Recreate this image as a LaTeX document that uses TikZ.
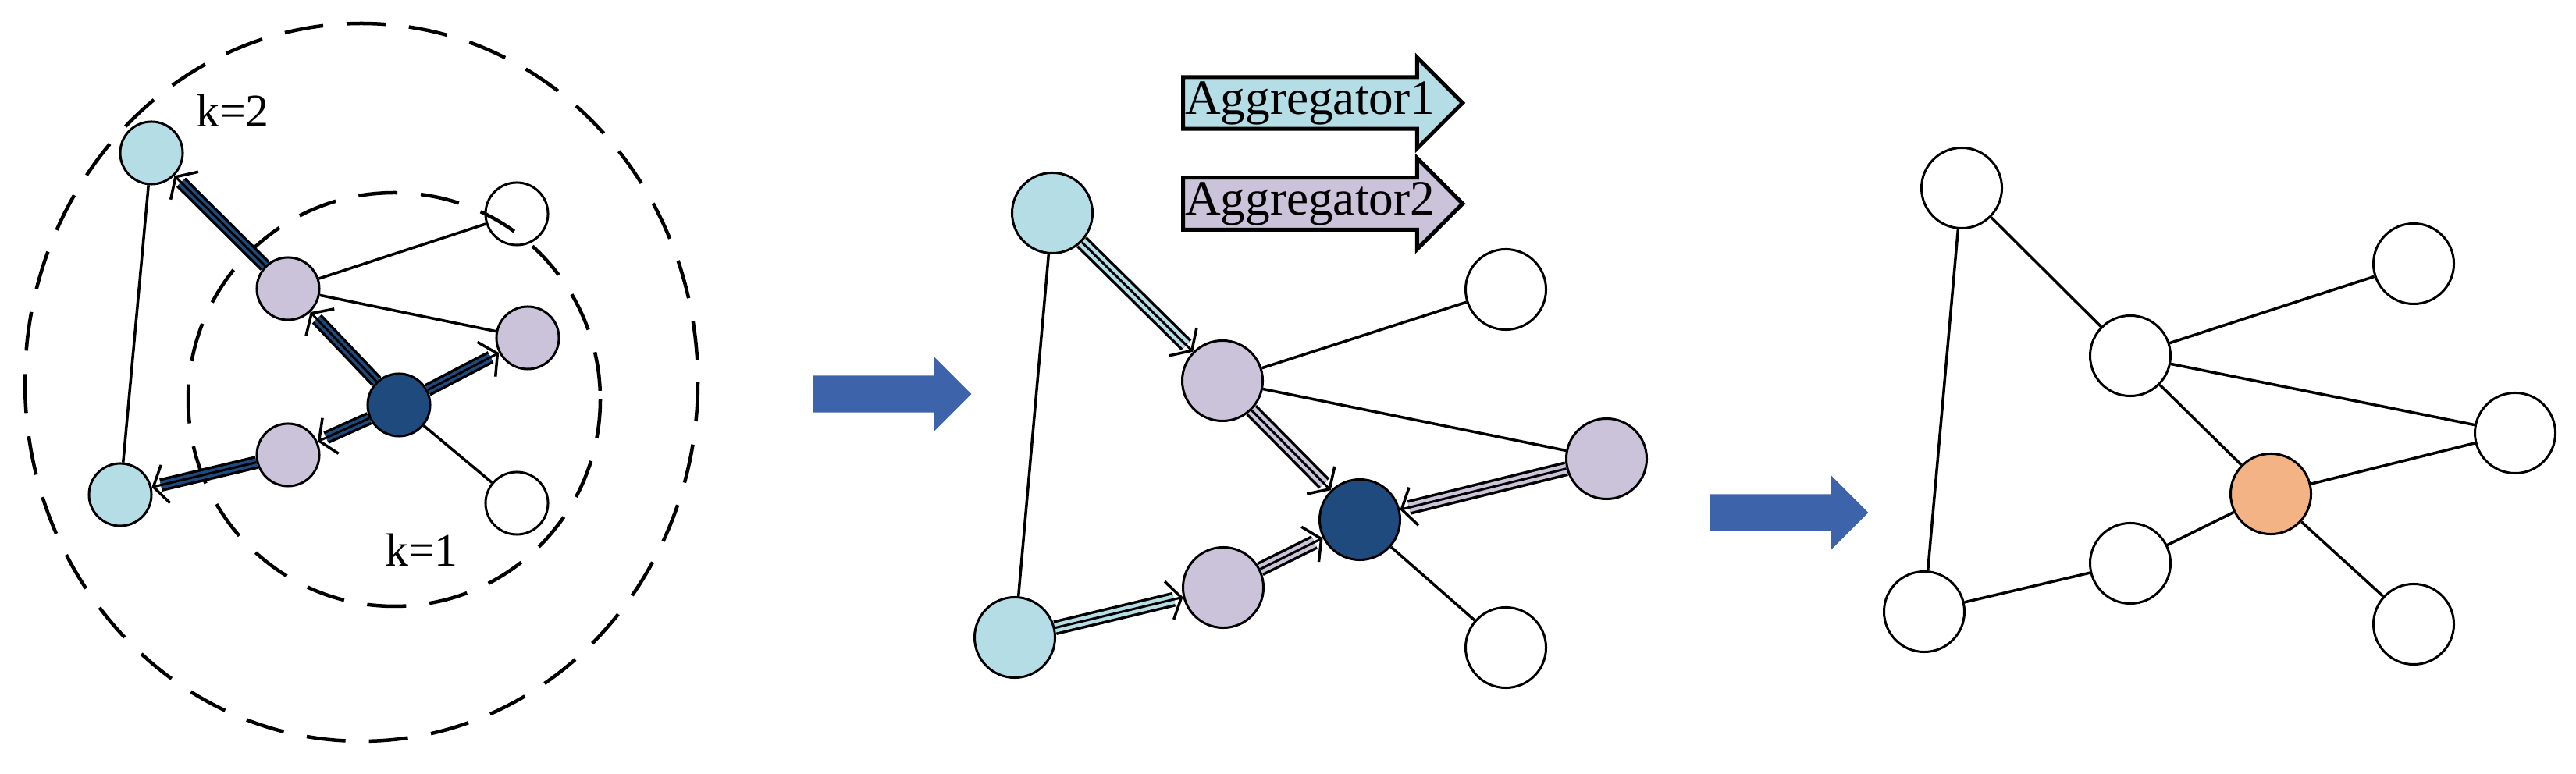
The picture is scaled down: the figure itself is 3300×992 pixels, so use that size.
\documentclass[tikz,border=0pt]{standalone}
\usepackage{fontspec}
\setmainfont{Liberation Serif}
\usetikzlibrary{arrows.meta,shapes.arrows}

\definecolor{hopone}{HTML}{B4DDE6}
\definecolor{hoptwo}{HTML}{CBC3DA}
\definecolor{target}{HTML}{1F4A7E}
\definecolor{result}{HTML}{F3B384}
\definecolor{stepblue}{HTML}{3D64AA}

% Message arrow: coloured double band with a black middle line and tip
\newcommand{\msgarrow}[4][0.12cm]{%
    \draw[double=#2, double distance=#1, line width=0.035cm, shorten >=0.12cm] (#3) -- (#4);
    \draw[line width=0.03cm, -{Straight Barb[length=0.16cm, width=0.5cm, line width=0.035cm]}] (#3) -- (#4);
}

\begin{document}
\begin{tikzpicture}[x=0.01cm, y=-0.01cm]

        % Styles of the vertices and of the big arrows
        \tikzset{
            vtx/.style={circle, draw, line width=0.03cm, inner sep=0pt, minimum size=#1},
            vtx/.default=1.03cm,
            edge/.style={line width=0.035cm},
            stage/.style={single arrow, fill=stepblue, inner xsep=0pt, inner ysep=0.23cm,
                minimum height=2.03cm, single arrow head extend=0.235cm,
                single arrow head indent=0pt},
            agg/.style={single arrow, draw, line width=0.05cm, fill=#1,
                minimum height=3.48cm, inner xsep=0pt, inner ysep=0.03cm,
                single arrow head extend=0.25cm, font=\fontsize{18pt}{18pt}\selectfont}
        }

        \useasboundingbox (0, 0) rectangle (3300, 992);

        % Left graph with the two hops around the target
        \begin{scope}
            \draw[dashed, line width=0.045cm, dash pattern=on 0.5cm off 0.3cm]
                (463, 490) ellipse [x radius=431, y radius=460];
            \draw[dashed, line width=0.045cm, dash pattern=on 0.5cm off 0.3cm]
                (505, 512) ellipse [x radius=264, y radius=265];

            \node[vtx=0.8cm, fill=hopone] (L1) at (194, 196) {};
            \node[vtx=0.8cm, fill=hopone] (L2) at (154, 634) {};
            \node[vtx=0.8cm, fill=hoptwo] (L3) at (369, 370) {};
            \node[vtx=0.8cm, fill=hoptwo] (L4) at (676, 433) {};
            \node[vtx=0.8cm, fill=hoptwo] (L5) at (369, 583) {};
            \node[vtx=0.8cm, fill=target] (L6) at (511, 519) {};
            \node[vtx=0.8cm] (L7) at (662, 274) {};
            \node[vtx=0.8cm] (L8) at (662, 645) {};

            \node at (298, 142) {\fontsize{17pt}{17pt}\selectfont k=2};
            \node at (540, 705) {\fontsize{17pt}{17pt}\selectfont k=1};

            \draw[edge] (L1) -- (L2);
            \draw[edge] (L3) -- (L7);
            \draw[edge] (L3) -- (L4);
            \draw[edge] (L6) -- (L8);

            \msgarrow[0.1cm]{target}{L6}{L3}
            \msgarrow[0.1cm]{target}{L3}{L1}
            \msgarrow[0.1cm]{target}{L6}{L4}
            \msgarrow[0.1cm]{target}{L6}{L5}
            \msgarrow[0.1cm]{target}{L5}{L2}
        \end{scope}

        \node[stage] (S1) at (1131, 505) {};

        % Middle graph, aggregation towards the target
        \begin{scope}
            \node[agg=hopone] (A1) at (1678, 132) {Aggregator1\hspace{0.25cm}};
            \node[agg=hoptwo] (A2) at (1678, 261) {Aggregator2\hspace{0.25cm}};

            \node[vtx, fill=hopone] (M1) at (1348, 273) {};
            \node[vtx, fill=hopone] (M2) at (1300, 817) {};
            \node[vtx, fill=hoptwo] (M3) at (1566, 488) {};
            \node[vtx, fill=hoptwo] (M4) at (2058, 588) {};
            \node[vtx, fill=hoptwo] (M5) at (1567, 753) {};
            \node[vtx, fill=target] (M6) at (1742, 666) {};
            \node[vtx] (M7) at (1929, 371) {};
            \node[vtx] (M8) at (1929, 830) {};

            \draw[edge] (M1) -- (M2);
            \draw[edge] (M3) -- (M7);
            \draw[edge] (M3) -- (M4);
            \draw[edge] (M6) -- (M8);

            \msgarrow{hopone}{M1}{M3}
            \msgarrow{hopone}{M2}{M5}
            \msgarrow{hoptwo}{M3}{M6}
            \msgarrow{hoptwo}{M4}{M6}
            \msgarrow{hoptwo}{M5}{M6}
        \end{scope}

        \node[stage] (S2) at (2280, 657) {};

        % Right graph after the update
        \begin{scope}
            \node[vtx] (R1) at (2513, 241) {};
            \node[vtx] (R2) at (2465, 784) {};
            \node[vtx] (R3) at (2729, 456) {};
            \node[vtx] (R4) at (2729, 722) {};
            \node[vtx, fill=result] (R5) at (2909, 633) {};
            \node[vtx] (R6) at (3092, 338) {};
            \node[vtx] (R7) at (3222, 555) {};
            \node[vtx] (R8) at (3092, 800) {};

            \draw[edge] (R1) -- (R2);
            \draw[edge] (R1) -- (R3);
            \draw[edge] (R3) -- (R6);
            \draw[edge] (R3) -- (R7);
            \draw[edge] (R3) -- (R5);
            \draw[edge] (R7) -- (R5);
            \draw[edge] (R5) -- (R4);
            \draw[edge] (R4) -- (R2);
            \draw[edge] (R5) -- (R8);
        \end{scope}

\end{tikzpicture}
\end{document}
